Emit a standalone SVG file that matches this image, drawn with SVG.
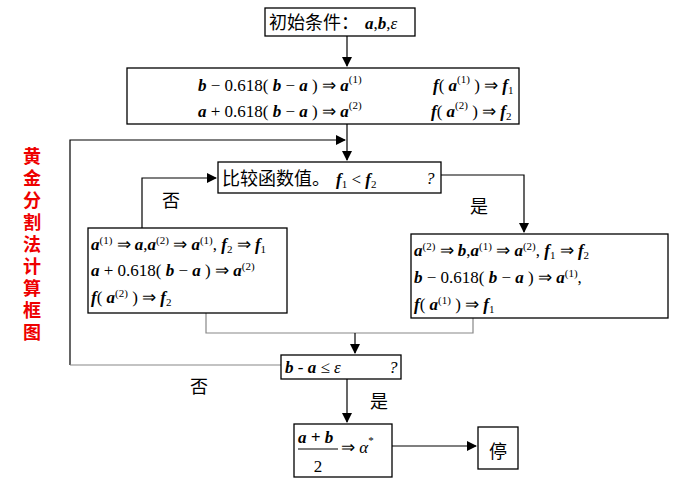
<svg xmlns="http://www.w3.org/2000/svg" width="693" height="485" viewBox="0 0 693 485">
<defs>
<marker id="ah" markerWidth="10" markerHeight="10" refX="9" refY="5" orient="auto" markerUnits="userSpaceOnUse"><path d="M0,0 L10,5 L0,10 Z" fill="#000"/></marker>
</defs>
<style>
.b{fill:#fff;stroke:#000;stroke-width:1.3}
.c{fill:none;stroke:#000;stroke-width:1.2}
.g{fill:none;stroke:#888;stroke-width:1.2}
.t{font-family:"Liberation Serif","Times New Roman",serif;font-size:17px;fill:#000}
.v{font-weight:bold;font-style:italic}
.s{font-size:11px}
.cj{font-family:"Noto Sans CJK SC",serif;font-size:18px}
.r{font-family:"Noto Sans CJK SC",sans-serif;font-size:18px;fill:#e00;font-weight:bold}
</style>
<rect width="693" height="485" fill="#fff"/>
<g id="connectors">
<line class="c" x1="347" y1="36" x2="347" y2="66" marker-end="url(#ah)"/>
<line class="c" x1="347" y1="124" x2="347" y2="160" marker-end="url(#ah)"/>
<polyline class="c" points="70,365 70,140 345,140" marker-end="url(#ah)"/>
<polyline class="c" points="142,228 142,178 216,178" marker-end="url(#ah)"/>
<polyline class="c" points="441,175 524,175 524,232" marker-end="url(#ah)"/>
<polyline class="g" points="206,313 206,333 473,333 473,318"/>
<line class="c" x1="355" y1="333" x2="355" y2="353" marker-end="url(#ah)"/>
<line class="g" x1="70" y1="365" x2="281" y2="365"/>
<line class="c" x1="347" y1="379" x2="347" y2="422" marker-end="url(#ah)"/>
<line class="c" x1="392" y1="446" x2="476" y2="446" marker-end="url(#ah)"/>
<text class="cj" x="162" y="207">否</text>
<text class="cj" x="470" y="213">是</text>
<text class="cj" x="190" y="393" font-size="20">否</text>
<text class="cj" x="370" y="408">是</text>
</g>
<g id="title" text-anchor="middle">
<text class="r" x="32" y="163">黄</text>
<text class="r" x="32" y="185">金</text>
<text class="r" x="32" y="207">分</text>
<text class="r" x="32" y="229">割</text>
<text class="r" x="32" y="251">法</text>
<text class="r" x="32" y="273">计</text>
<text class="r" x="32" y="295">算</text>
<text class="r" x="32" y="317">框</text>
<text class="r" x="32" y="339">图</text>
</g>
<g id="init"><rect class="b" x="265" y="8" width="150" height="28"/>
<text class="cj" x="269" y="29" font-size="19">初始条件：</text>
<text class="t" x="365" y="29" font-size="19"><tspan class="v">a</tspan>,<tspan class="v">b</tspan>,<tspan font-style="italic">ε</tspan></text></g>
<g id="box2"><rect class="b" x="127" y="68" width="392" height="56"/>
<text class="t" x="198" y="91" font-size="18"><tspan class="v">b</tspan> − 0.618( <tspan class="v">b</tspan> − <tspan class="v">a</tspan> ) ⇒ <tspan class="v">a</tspan><tspan class="s" dy="-8">(1)</tspan></text>
<text class="t" x="433" y="91" font-size="18"><tspan class="v">f</tspan>( <tspan class="v">a</tspan><tspan class="s" dy="-8">(1)</tspan><tspan dy="8"> ) ⇒ </tspan><tspan class="v">f</tspan><tspan class="s" dy="3">1</tspan></text>
<text class="t" x="198" y="117" font-size="18"><tspan class="v">a</tspan> + 0.618( <tspan class="v">b</tspan> − <tspan class="v">a</tspan> ) ⇒ <tspan class="v">a</tspan><tspan class="s" dy="-8">(2)</tspan></text>
<text class="t" x="431" y="117" font-size="18"><tspan class="v">f</tspan>( <tspan class="v">a</tspan><tspan class="s" dy="-8">(2)</tspan><tspan dy="8"> ) ⇒ </tspan><tspan class="v">f</tspan><tspan class="s" dy="3">2</tspan></text></g>
<g id="compare"><rect class="b" x="218" y="162" width="223" height="31"/>
<text class="cj" x="222" y="185" font-size="19">比较函数值。</text>
<text class="t" x="336" y="185" font-size="19"><tspan class="v">f</tspan><tspan class="s" dy="3">1</tspan><tspan dy="-3"> &lt; </tspan><tspan class="v">f</tspan><tspan class="s" dy="3">2</tspan></text>
<text class="t" x="426" y="184" font-style="italic">?</text></g>
<g id="left"><rect class="b" x="88" y="228" width="199" height="85"/>
<text class="t" x="91" y="250" font-size="15"><tspan class="v">a</tspan><tspan class="s" dy="-6">(1)</tspan><tspan dy="6"> ⇒ </tspan><tspan class="v">a</tspan>,<tspan class="v">a</tspan><tspan class="s" dy="-6">(2)</tspan><tspan dy="6"> ⇒ </tspan><tspan class="v">a</tspan><tspan class="s" dy="-6">(1)</tspan><tspan dy="6">, </tspan><tspan class="v">f</tspan><tspan class="s" dy="3">2</tspan><tspan dy="-3"> ⇒ </tspan><tspan class="v">f</tspan><tspan class="s" dy="3">1</tspan></text>
<text class="t" x="91" y="276" font-size="15"><tspan class="v">a</tspan> + 0.618( <tspan class="v">b</tspan> − <tspan class="v">a</tspan> ) ⇒ <tspan class="v">a</tspan><tspan class="s" dy="-6">(2)</tspan></text>
<text class="t" x="91" y="303" font-size="15"><tspan class="v">f</tspan>( <tspan class="v">a</tspan><tspan class="s" dy="-6">(2)</tspan><tspan dy="6"> ) ⇒ </tspan><tspan class="v">f</tspan><tspan class="s" dy="3">2</tspan></text></g>
<g id="right"><rect class="b" x="411" y="234" width="257" height="84"/>
<text class="t" x="414" y="256" font-size="16"><tspan class="v">a</tspan><tspan class="s" dy="-6">(2)</tspan><tspan dy="6"> ⇒ </tspan><tspan class="v">b</tspan>,<tspan class="v">a</tspan><tspan class="s" dy="-6">(1)</tspan><tspan dy="6"> ⇒ </tspan><tspan class="v">a</tspan><tspan class="s" dy="-6">(2)</tspan><tspan dy="6">, </tspan><tspan class="v">f</tspan><tspan class="s" dy="3">1</tspan><tspan dy="-3"> ⇒ </tspan><tspan class="v">f</tspan><tspan class="s" dy="3">2</tspan></text>
<text class="t" x="414" y="283" font-size="16"><tspan class="v">b</tspan> − 0.618( <tspan class="v">b</tspan> − <tspan class="v">a</tspan> ) ⇒ <tspan class="v">a</tspan><tspan class="s" dy="-6">(1)</tspan><tspan dy="6">,</tspan></text>
<text class="t" x="414" y="310" font-size="16"><tspan class="v">f</tspan>( <tspan class="v">a</tspan><tspan class="s" dy="-6">(1)</tspan><tspan dy="6"> ) ⇒ </tspan><tspan class="v">f</tspan><tspan class="s" dy="3">1</tspan></text></g>
<g id="decision"><rect class="b" x="281" y="355" width="120" height="24"/>
<text class="t" x="285" y="373" font-size="18"><tspan class="v">b</tspan> - <tspan class="v">a</tspan> ≤ <tspan font-style="italic">ε</tspan></text>
<text class="t" x="389" y="373" font-style="italic">?</text></g>
<g id="result"><rect class="b" x="294" y="424" width="98" height="53"/>
<text class="t v" x="298" y="443" font-size="18">a + b</text>
<line x1="298" y1="449" x2="338" y2="449" stroke="#000" stroke-width="1.2"/>
<text class="t" x="318" y="472" font-size="18" text-anchor="middle">2</text>
<text class="t" x="341" y="453" font-size="19">⇒ <tspan font-style="italic">α</tspan><tspan class="s" dy="-9">*</tspan></text></g>
<g id="stop"><rect class="b" x="478" y="427" width="40" height="42" stroke="#888"/>
<text class="cj" x="498" y="458" font-size="30" text-anchor="middle">停</text></g>
</svg>
